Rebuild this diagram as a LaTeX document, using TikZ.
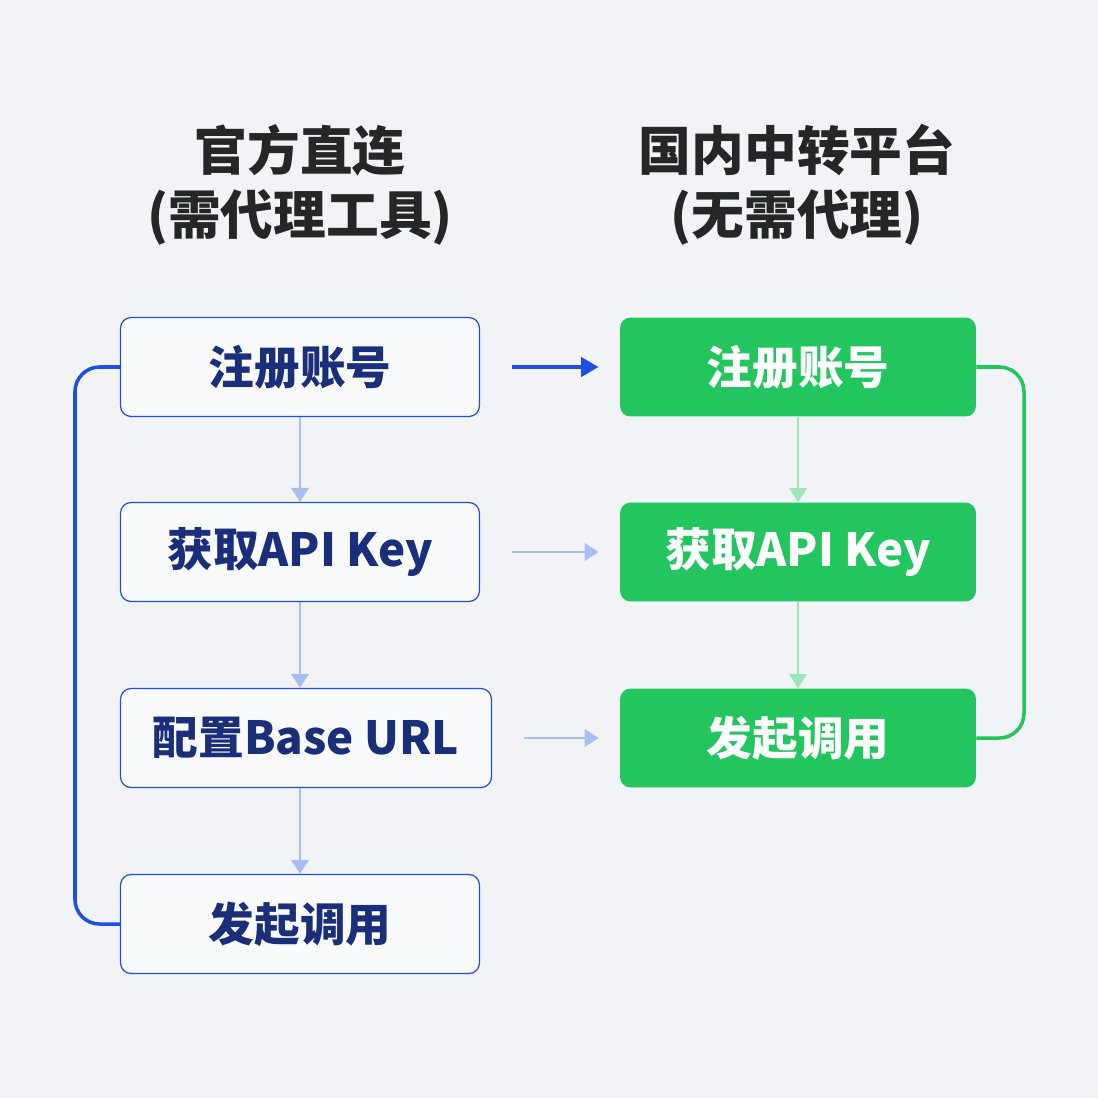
\documentclass[tikz,border=0pt]{standalone}
\usepackage{fontspec}
\newfontfamily\cjk{Noto Sans CJK SC}
\usetikzlibrary{arrows.meta}
\definecolor{bgc}{HTML}{F1F3F6}
\definecolor{navy}{HTML}{1A2E7A}
\definecolor{bluel}{HTML}{1E4FE0}
\definecolor{bluelt}{HTML}{A9BDF2}
\definecolor{greenf}{HTML}{22C55E}
\definecolor{greenlt}{HTML}{9EE6B7}
\tikzset{
  offbox/.style={draw=bluel, line width=0.7pt, rounded corners=6pt, fill=white!60!bgc,
    minimum height=1.98cm, text=navy, font=\cjk\bfseries\fontsize{26}{30}\selectfont},
  relaybox/.style={fill=greenf, rounded corners=6pt, minimum height=1.98cm,
    text=white, font=\cjk\bfseries\fontsize{26}{30}\selectfont},
  title/.style={font=\cjk\bfseries\fontsize{30}{34}\selectfont, text=black!85},
  softarrow/.style={-{Triangle[length=8pt,width=10pt]}, line width=1.2pt}
}
\begin{document}
\begin{tikzpicture}[x=0.02cm,y=-0.02cm]
    % Fondo
    \fill[bgc] (0,0) rectangle (1098,1098);

    % Titulos
    \node[title] (tl1) at (300,150) {官方直连};
    \node[title] (tl2) at (300,217) {(需代理工具)};
    \node[title] (tr1) at (797,150) {国内中转平台};
    \node[title] (tr2) at (797,217) {(无需代理)};

    % Columna izquierda
    \node[offbox, minimum width=7.18cm] (l1) at (300,367) {注册账号};
    \node[offbox, minimum width=7.18cm] (l2) at (300,552) {获取API Key};
    \node[offbox, minimum width=7.42cm] (l3) at (306,738) {配置Base URL};
    \node[offbox, minimum width=7.18cm] (l4) at (300,924) {发起调用};

    % Columna derecha
    \node[relaybox, minimum width=7.12cm] (r1) at (798,367) {注册账号};
    \node[relaybox, minimum width=7.12cm] (r2) at (798,552) {获取API Key};
    \node[relaybox, minimum width=7.12cm] (r3) at (798,738) {发起调用};

    % Flechas verticales
    \draw[softarrow, bluelt] (l1.south) -- (l2.north);
    \draw[softarrow, bluelt] (l2.south) -- (l3.north -| l2.south);
    \draw[softarrow, bluelt] (l3.south -| l4.north) -- (l4.north);
    \draw[softarrow, greenlt] (r1.south) -- (r2.north);
    \draw[softarrow, greenlt] (r2.south) -- (r3.north);

    % Flechas horizontales
    \draw[-{Triangle[length=10pt,width=11pt]}, line width=2pt, bluel] ([xshift=18]l1.east) -- ([xshift=-12]r1.west);
    \draw[softarrow, bluelt] ([xshift=18]l2.east) -- ([xshift=-12]r2.west);
    \draw[softarrow, bluelt] ([xshift=18]l3.east) -- ([xshift=-12]r3.west);

    % Corchetes
    \draw[bluel, line width=2pt, rounded corners=14pt] (l1.west) -- (75,367) -- (75,924) -- (l4.west);
    \draw[greenf, line width=2pt, rounded corners=14pt] (r1.east) -- (1024,367) -- (1024,738) -- (r3.east);
\end{tikzpicture}
\end{document}
